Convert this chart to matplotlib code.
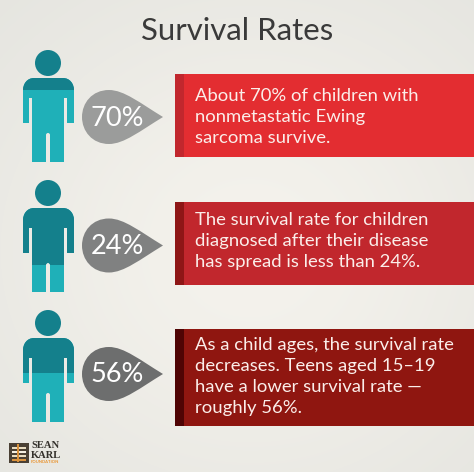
#!/usr/bin/env python3
# Survival rates infographic, drawn in pixel coordinates of the 474x472 picture

import numpy as np
import matplotlib
matplotlib.use("Agg")
import matplotlib.pyplot as plt
from matplotlib.patches import Rectangle, Circle, PathPatch
from matplotlib.path import Path

title = "Survival Rates"
rate_labels = ["70%", "24%", "56%"]
# share of each figure left in the light colour
light_share = [0.64, 0.24, 0.44]
captions = [
    "About 70% of children with\nnonmetastatic Ewing\nsarcoma survive.",
    "The survival rate for children\ndiagnosed after their disease\nhas spread is less than 24%.",
    "As a child ages, the survival rate\ndecreases. Teens aged 15\u201319\nhave a lower survival rate \u2014\nroughly 56%.",
]

figure_tops = [50, 180, 310]
drop_centers = [117, 245.5, 374]
box_spans = [(74, 157), (202, 285), (329, 426)]
caption_tops = [88, 212, 337]

box_colors = ["#e32d31", "#c1272d", "#8f1610"]
strip_colors = ["#c1272d", "#8e1616", "#4f0404"]
drop_colors = ["#9b9c9b", "#808181", "#6d6e6e"]
teal_dark = "#14808c"
teal_light = "#1fb0b8"
text_font = ["Lato", "DejaVu Sans"]

fig = plt.figure(figsize=(4.74, 4.72), dpi=100)
ax = fig.add_axes([0, 0, 1, 1])
ax.set_xlim(0, 474)
ax.set_ylim(472, 0)
ax.axis("off")

# --- soft background ---
yy, xx = np.mgrid[0:472, 0:474]
glow = np.exp(-(((xx - 250) / 300.0) ** 2 + ((yy - 250) / 280.0) ** 2))
shade = np.zeros((472, 474, 3))
shade[..., 0] = 226 + 18 * glow
shade[..., 1] = 226 + 16 * glow
shade[..., 2] = 221 + 15 * glow
ax.imshow(shade / 255.0, extent=(0, 474, 472, 0), aspect="auto", zorder=0)


def person_path(top):
    # outline of the body, the head is a separate circle
    s = top - 50
    verts = [
        (34, 78), (27, 78), (23, 84), (23, 90), (23, 123), (29, 123), (29, 98), (32, 98),
        (32, 162), (46, 162), (46, 135), (46, 133), (48, 133), (50, 133), (50, 135), (50, 162),
        (64, 162), (64, 98), (67, 98), (67, 123), (74, 123), (74, 90), (74, 84), (70, 78), (63, 78),
        (34, 78),
    ]
    codes = [Path.MOVETO, Path.CURVE4, Path.CURVE4, Path.CURVE4, Path.LINETO, Path.LINETO, Path.LINETO,
             Path.LINETO, Path.LINETO, Path.LINETO, Path.LINETO, Path.CURVE3, Path.CURVE3, Path.CURVE3,
             Path.CURVE3, Path.LINETO, Path.LINETO, Path.LINETO, Path.LINETO, Path.LINETO, Path.LINETO,
             Path.LINETO, Path.CURVE4, Path.CURVE4, Path.CURVE4, Path.CLOSEPOLY]
    return Path([(x, y + s) for x, y in verts], codes)


def drop_path(cy):
    # teardrop pointing right
    cx, r, tip = 109, 27, 163
    verts = [(tip, cy), (140, cy - 14), (124, cy - r), (cx, cy - r), (92, cy - r), (82, cy - 14), (82, cy),
             (82, cy + 14), (92, cy + r), (cx, cy + r), (124, cy + r), (140, cy + 14), (tip, cy), (tip, cy)]
    codes = [Path.MOVETO] + [Path.CURVE4] * 12 + [Path.CLOSEPOLY]
    return Path(verts, codes)


for i in range(3):
    top = figure_tops[i]
    bottom = top + 112

    # person: light colour everywhere, dark part clipped to the upper share
    body = PathPatch(person_path(top), fc=teal_light, ec="none", zorder=2)
    ax.add_patch(body)
    dark = PathPatch(person_path(top), fc=teal_dark, ec="none", zorder=3)
    ax.add_patch(dark)
    limit = Rectangle((0, top - 5), 100, bottom - light_share[i] * 112 - top + 5, transform=ax.transData)
    dark.set_clip_path(limit)
    ax.add_patch(Circle((48, top + 13), 13, fc=teal_dark, ec="none", zorder=3))

    ax.add_patch(PathPatch(drop_path(drop_centers[i]), fc=drop_colors[i], ec="none", zorder=2))
    ax.text(117, drop_centers[i] + 1, rate_labels[i], color="white", fontsize=19.5, family=text_font,
            ha="center", va="center", zorder=4)

    y0, y1 = box_spans[i]
    ax.add_patch(Rectangle((175, y0), 299, y1 - y0, fc=box_colors[i], ec="none", zorder=2))
    ax.add_patch(Rectangle((175, y0), 9, y1 - y0, fc=strip_colors[i], ec="none", zorder=3))
    ax.text(195, caption_tops[i], captions[i], color="#fbeeea", fontsize=13.3, family=text_font,
            ha="left", va="top", linespacing=1.39, zorder=4)

ax.text(237, 31, title, color="#3a3a3a", fontsize=22.4, family=text_font, ha="center", va="center")

# --- foundation logo ---
ax.add_patch(Rectangle((9, 443), 20, 20, fc="#4a4034", ec="none", zorder=2))
for stripe_y, stripe_color in [(447, "#e9dcc0"), (451, "#f4efe2"), (455, "#e9dcc0"), (459, "#d9913c")]:
    ax.add_patch(Rectangle((12, stripe_y), 14, 1.6, fc=stripe_color, ec="none", zorder=3))
ax.add_patch(Rectangle((17, 444), 1.6, 18, fc="#d9913c", ec="none", zorder=3))
ax.text(31, 446, "SEAN", color="#33302b", fontsize=7.6, fontweight="bold", family="Liberation Serif", va="center")
ax.text(31, 455, "KARL", color="#33302b", fontsize=7.6, fontweight="bold", family="Liberation Serif", va="center")
ax.text(31, 461.8, "FOUNDATION", color="#e8922c", fontsize=3.0, fontweight="bold", family=text_font, va="center")

fig.savefig("out.png", dpi=100)
